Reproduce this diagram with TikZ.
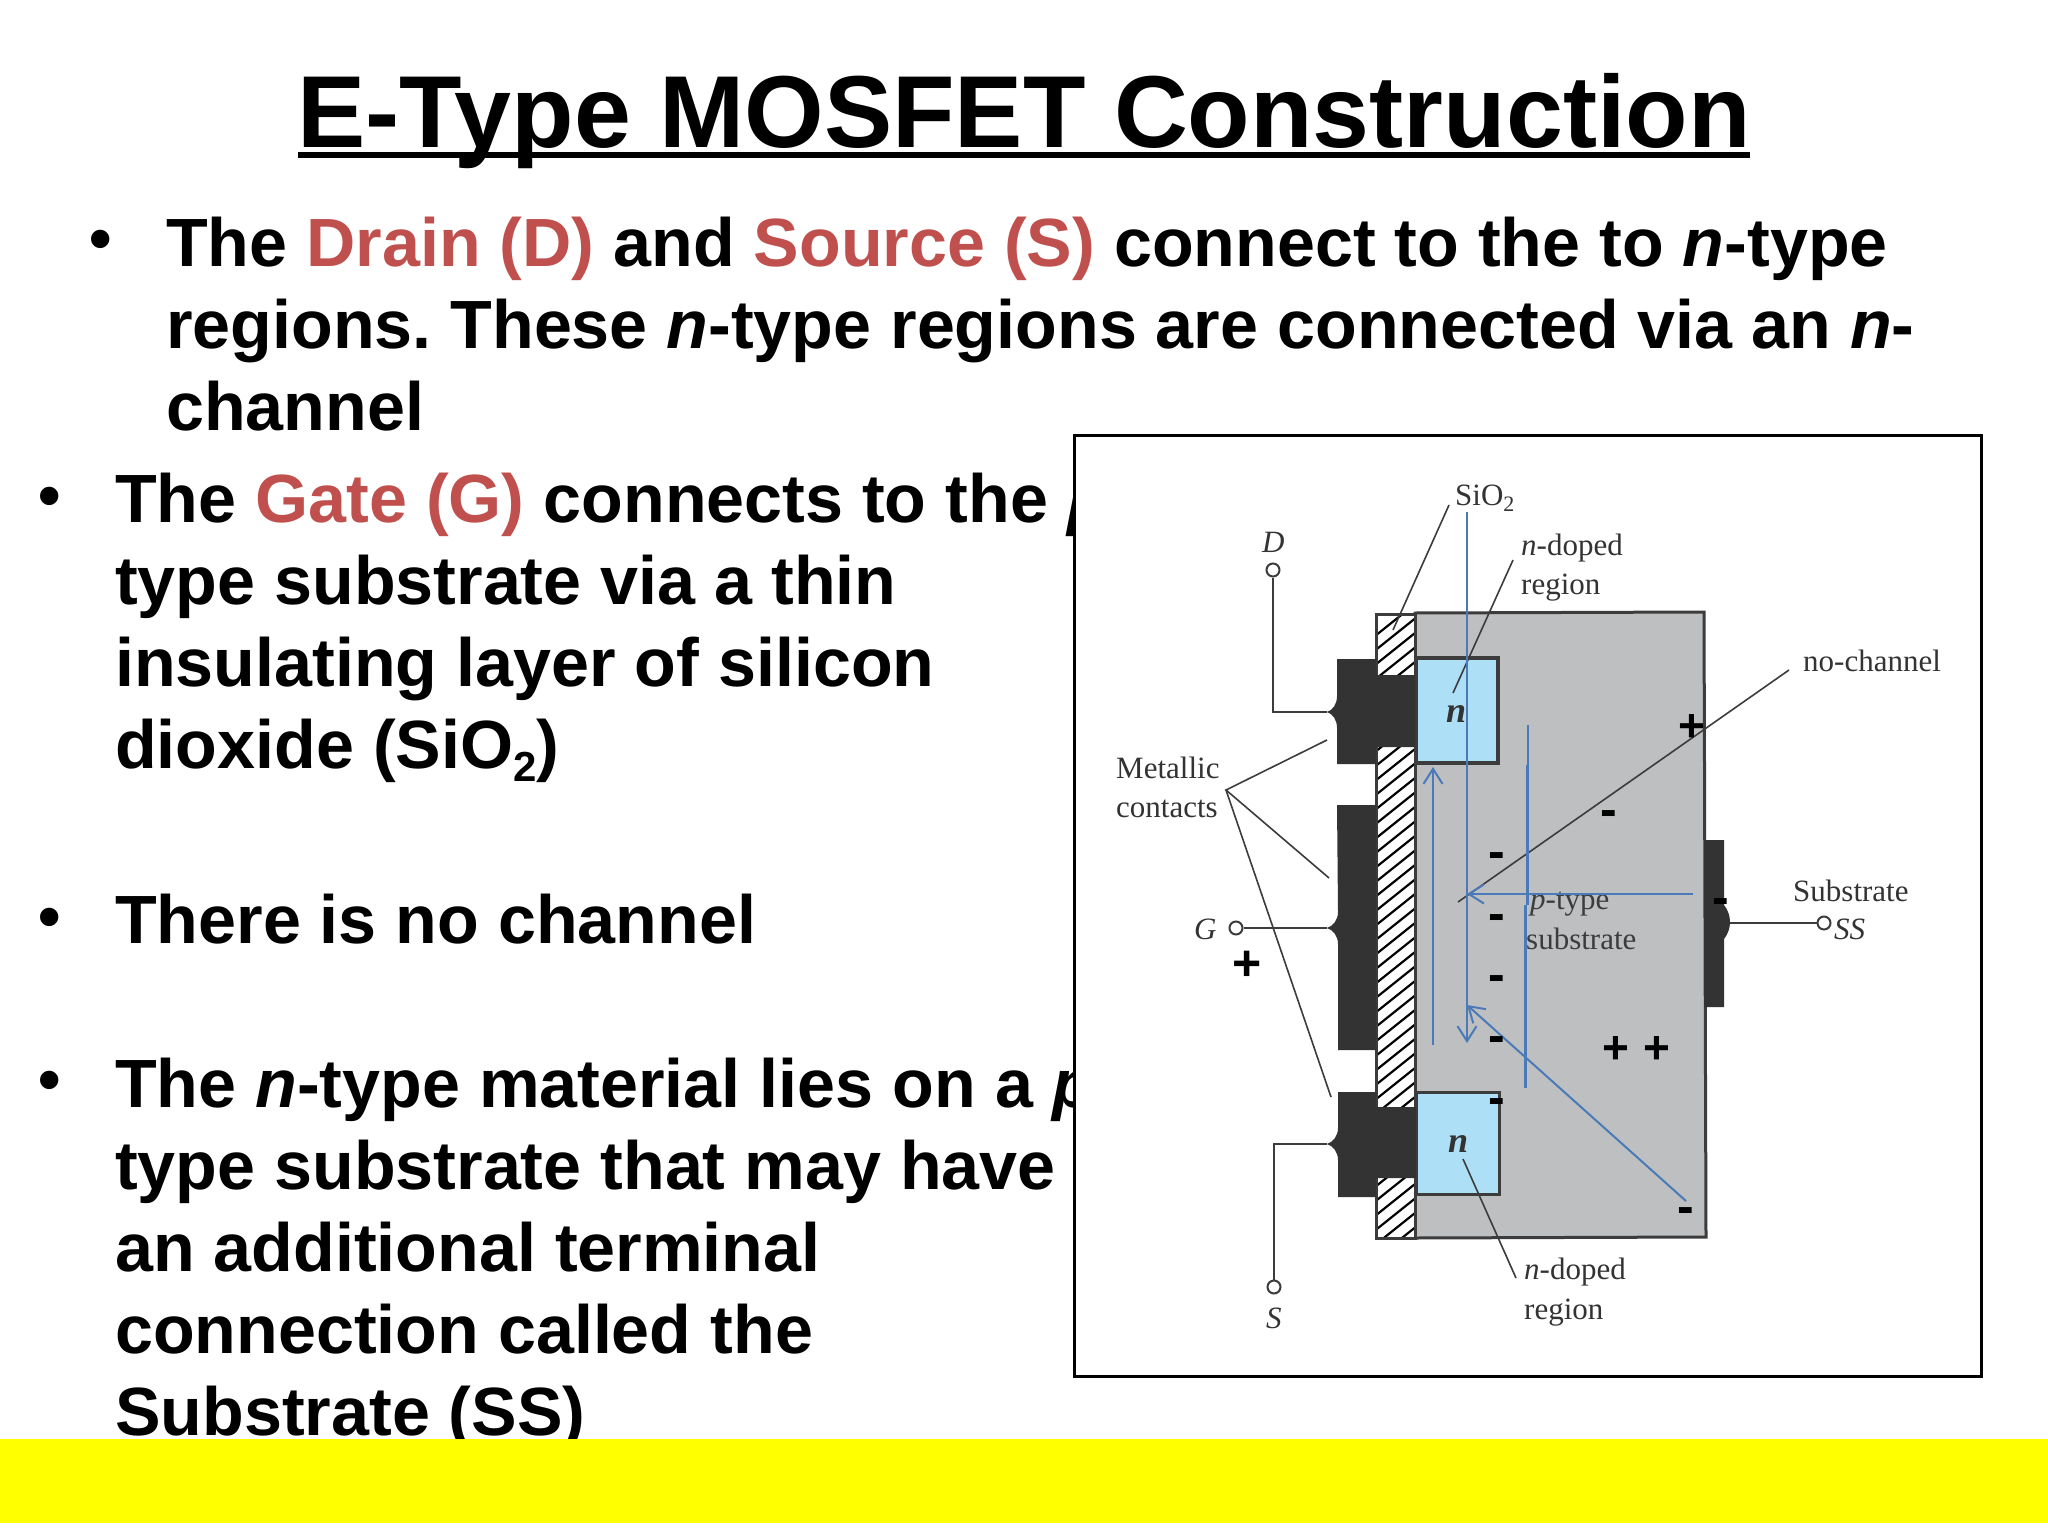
\documentclass[tikz,border=0pt]{standalone}
\usepackage{fontspec}
\setmainfont{Liberation Sans}
\newfontfamily\imgfont{Liberation Serif}
\usetikzlibrary{arrows.meta}
\definecolor{slidered}{HTML}{C0504D}
\definecolor{bandyellow}{HTML}{FFFF00}
\definecolor{subgray}{HTML}{BDBFC1}
\definecolor{nblue}{HTML}{ADDFF6}
\definecolor{metal}{HTML}{333333}
\definecolor{inkline}{HTML}{3C3C3C}
\definecolor{annot}{HTML}{4A7AB8}
\newcommand{\red}[1]{\textcolor{slidered}{#1}}
\newcommand{\nit}{\textit{n}}
\newcommand{\pit}{\textit{p}}
\frenchspacing
\tikzset{
  x=1pt,y=-1pt,
  bodyline/.style={anchor=base west,inner sep=0pt,font=\fontsize{68.25}{74}\selectfont\bfseries,text=black},
  bulletmark/.style={anchor=base,inner sep=0pt,font=\fontsize{64}{70}\selectfont\bfseries},
  imglabel/.style={anchor=base west,inner sep=0pt,font=\imgfont\fontsize{31}{32}\selectfont,text=metal},
  leader/.style={draw=inkline,line width=1.6pt},
  wire/.style={draw=inkline,line width=2.2pt},
  terminal/.style={circle,draw=inkline,line width=2pt,fill=white,minimum size=13pt,inner sep=0pt},
  metalpart/.style={fill=metal,draw=none},
  annotline/.style={draw=annot,line width=2pt},
  annotarrow/.style={annotline,-{Straight Barb[length=15pt,width=19pt,line width=2pt]}},
  chgminus/.style={anchor=base,inner sep=0pt,yshift=-14pt,font=\fontsize{50}{50}\selectfont\bfseries},
  chgplus/.style={anchor=base,inner sep=0pt,yshift=-16pt,font=\fontsize{46}{46}\selectfont\bfseries},
}
\begin{document}
\begin{tikzpicture}
\useasboundingbox (0,0) rectangle (2048,1536);
\fill[white] (0,0) rectangle (2048,1536);
% title
\node[anchor=base,inner sep=0pt,font=\fontsize{102.3}{110}\selectfont\bfseries] (title) at (1024,147) {E-Type MOSFET Construction};
\fill (298,152.5) rectangle (1750,158);
% text
\node[bulletmark] (b1) at (101,260) {•};
\node[bodyline] (l1) at (166,266) {The \red{Drain (D)} and \red{Source (S)} connect to the to \nit-type};
\node[bodyline] (l2) at (166,348) {regions. These \nit-type regions are connected via an \nit-};
\node[bodyline] (l3) at (166,430) {channel};
\node[bulletmark] (b2) at (50,517) {•};
\node[bodyline] (l4) at (115,522) {The \red{Gate (G)} connects to the \pit-};
\node[bodyline] (l5) at (115,604) {type substrate via a thin};
\node[bodyline] (l6) at (115,686) {insulating layer of silicon};
\node[bodyline] (l7) at (115,768) {dioxide (SiO\raisebox{-0.2em}{\fontsize{42}{42}\selectfont 2})};
\node[bulletmark] (b3) at (50,938) {•};
\node[bodyline] (l8) at (115,943) {There is no channel};
\node[bulletmark] (b4) at (50,1101) {•};
\node[bodyline] (l9) at (115,1107) {The \nit-type material lies on a \pit-};
\node[bodyline] (l10) at (115,1189) {type substrate that may have};
\node[bodyline] (l11) at (115,1271) {an additional terminal};
\node[bodyline] (l12) at (115,1353) {connection called the};
\node[bodyline] (l13) at (115,1435) {Substrate (SS)};
% picture frame
\draw[black,line width=3pt,fill=white] (1074,435) rectangle (1981,1376);
% substrate
\draw[fill=subgray,draw=inkline,line width=3pt] (1415,613) -- (1704,612) -- (1706,1237) -- (1415,1238) -- cycle;
% oxide with hatch
\begin{scope}
\clip (1376,614) rectangle (1415,1238);
\fill[white] (1376,614) rectangle (1415,1238);
\foreach \k in {0,...,46} {
  \draw[black,line width=2.2pt] (1370,{640+\k*14.5}) -- (1420,{600+\k*14.5});
}
\end{scope}
\draw[inkline,line width=3pt] (1376,614) rectangle (1415,1238);
% n regions
\draw[fill=nblue,draw=inkline,line width=3.5pt] (1416,658) rectangle (1498,763);
\draw[fill=nblue,draw=inkline,line width=3pt] (1416,1092) rectangle (1499,1194);
% metal
\fill[metalpart] (1337,659) -- (1376,659) -- (1376,675) -- (1415,675) -- (1415,747) -- (1376,747) -- (1376,764) -- (1337,764) -- (1337,728)
  .. controls (1337,720) and (1333,714) .. (1327,712) .. controls (1333,710) and (1337,704) .. (1337,696) -- cycle;
\fill[metalpart] (1337,805) -- (1376,805) -- (1376,1050) -- (1338,1050) -- (1338,944)
  .. controls (1338,936) and (1333,930) .. (1327,928) .. controls (1333,926) and (1338,920) .. (1338,912) -- cycle;
\fill[metalpart] (1338,1092) -- (1376,1092) -- (1376,1107) -- (1416,1107) -- (1416,1178) -- (1376,1178) -- (1376,1197) -- (1338,1197) -- (1338,1160)
  .. controls (1338,1152) and (1333,1146) .. (1327,1144) .. controls (1333,1142) and (1338,1136) .. (1338,1128) -- cycle;
\fill[metalpart] (1704,840) -- (1724,840) -- (1724,905)
  .. controls (1728,910) and (1730,916) .. (1730,922) .. controls (1730,928) and (1728,934) .. (1724,939) -- (1724,1007) -- (1704,1007) -- cycle;
% terminals
\coordinate (dj) at (1327,712);
\coordinate (gj) at (1327,928);
\coordinate (sj) at (1327,1144);
\coordinate (ssj) at (1730,923);
\node[terminal] (dt) at (1273,570) {};
\node[terminal] (gt) at (1236,928) {};
\node[terminal] (st) at (1274,1287) {};
\node[terminal] (sst) at (1824,923) {};
\draw[wire] (dt) |- (dj);
\draw[wire] (gt) -- (gj);
\draw[wire] (st) |- (sj);
\draw[wire] (sst) -- (ssj);
% leaders
\coordinate (sioa) at (1449,505); \coordinate (siob) at (1393,630);
\draw[leader] (sioa) -- (siob);
\coordinate (ndta) at (1513,560); \coordinate (ndtb) at (1453,693);
\draw[leader] (ndta) -- (ndtb);
\coordinate (ndba) at (1463,1159); \coordinate (ndbb) at (1516,1278);
\draw[leader] (ndba) -- (ndbb);
\coordinate (mc) at (1226,790);
\coordinate (mc1) at (1327,740); \coordinate (mc2) at (1329,878); \coordinate (mc3) at (1331,1097);
\draw[leader] (mc1) -- (mc) -- (mc2);
\draw[leader] (mc) -- (mc3);
\coordinate (nca) at (1789,670); \coordinate (ncb) at (1458,902);
\draw[leader] (nca) -- (ncb);
% image labels
\node[imglabel] (lsio) at (1455,505) {SiO\raisebox{-0.22em}{\fontsize{22}{22}\selectfont 2}};
\node[imglabel] (ld) at (1262,552) {\textit{D}};
\node[imglabel] (lg) at (1194,939) {\textit{G}};
\node[imglabel] (ls) at (1266,1328) {\textit{S}};
\node[imglabel] (lnd1) at (1521,555) {\textit{n}-doped};
\node[imglabel] (lnd2) at (1521,594) {region};
\node[imglabel] (lnd3) at (1524,1279) {\textit{n}-doped};
\node[imglabel] (lnd4) at (1524,1319) {region};
\node[imglabel] (lmc1) at (1116,778) {Metallic};
\node[imglabel] (lmc2) at (1116,817) {contacts};
\node[imglabel] (lnc) at (1803,671) {no-channel};
\node[imglabel] (lsub) at (1793,901) {Substrate};
\node[imglabel] (lss) at (1834,939) {\textit{SS}};
\node[imglabel,text=inkline] (lpt) at (1530,909) {\textit{p}-type};
\node[imglabel,text=inkline] (lst) at (1526,949) {substrate};
\node[imglabel,font=\imgfont\bfseries\itshape\fontsize{36}{36}\selectfont,anchor=base] (n1) at (1456,722) {n};
\node[imglabel,font=\imgfont\bfseries\itshape\fontsize{36}{36}\selectfont,anchor=base] (n2) at (1458,1152) {n};
% annotations
\coordinate (av1) at (1467,512); \coordinate (av2) at (1467,1043);
\coordinate (au1) at (1433,1045); \coordinate (au2) at (1433,767);
\coordinate (ah1) at (1693,894); \coordinate (ah2) at (1467,894);
\coordinate (ad1) at (1686,1201); \coordinate (ad2) at (1467,1005);
\draw[annotarrow] (av1) -- (av2);
\draw[annotarrow] (au1) -- (au2);
\draw[annotarrow] (ah1) -- (ah2);
\draw[annotarrow] (ad1) -- (ad2);
\draw[annotline] (1527.5,725) -- (1527.5,765);
\draw[annotline,line width=3pt] (1527,765) -- (1527,905);
\draw[annotline,line width=3.5pt] (1525.5,905) -- (1525.5,1088);
% charges
\node[chgminus] (m1) at (1609,812) {-};
\node[chgminus] (m2) at (1497,854) {-};
\node[chgminus] (m3) at (1497,916) {-};
\node[chgminus] (m4) at (1497,977) {-};
\node[chgminus] (m5) at (1497,1038) {-};
\node[chgminus] (m6) at (1497,1100) {-};
\node[chgminus] (m7) at (1686,1209) {-};
\node[chgminus] (m8) at (1721,900) {-};
\node[chgplus] (p1) at (1692,725) {+};
\node[chgplus] (p2) at (1616,1047) {+};
\node[chgplus] (p3) at (1657,1047) {+};
\node[chgplus,font=\fontsize{50}{50}\selectfont\bfseries] (p4) at (1247,964) {+};
% band
\fill[bandyellow] (0,1439) rectangle (2048,1523);
\end{tikzpicture}
\end{document}
